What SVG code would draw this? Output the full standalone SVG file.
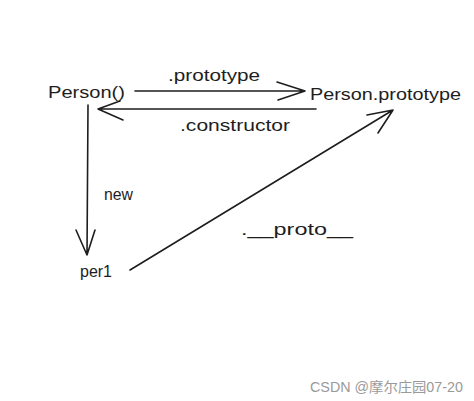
<svg xmlns="http://www.w3.org/2000/svg" width="474" height="401" viewBox="0 0 474 401">
<style>
.t{font-family:"Liberation Sans","DejaVu Sans",sans-serif;font-size:17px;fill:#1e1e1e}
.c{fill:none;stroke:#1e1e1e;stroke-width:1.6;stroke-linecap:round;stroke-linejoin:round}
.w{font-family:"Liberation Sans","Noto Sans CJK SC",sans-serif;font-size:14px;fill:#9a9a9a}
</style>
<rect width="474" height="401" fill="#ffffff"/>
<g id="person">
<text class="t" x="48" y="98" textLength="77" lengthAdjust="spacingAndGlyphs">Person()</text>
</g>
<g id="person-prototype">
<text class="t" x="310" y="100" textLength="151" lengthAdjust="spacingAndGlyphs">Person.prototype</text>
</g>
<g id="per1">
<text class="t" x="80" y="277" textLength="32" lengthAdjust="spacingAndGlyphs">per1</text>
</g>
<g id="connectors">
<path class="c" d="M135 91 L305 91 M277 82 L305 91 L278 100"/>
<path class="c" d="M316 109 L98 109 M120 101 L98 109 L123 120"/>
<path class="c" d="M88 105 L87 255 M76 230 L87 255 L95 230"/>
<path class="c" d="M130 270 L393 110 M367 115 L393 110 L378 133"/>
<text class="t" x="168" y="81" textLength="92" lengthAdjust="spacingAndGlyphs">.prototype</text>
<text class="t" x="180" y="131" textLength="110" lengthAdjust="spacingAndGlyphs">.constructor</text>
<text class="t" x="104" y="200" textLength="29" lengthAdjust="spacingAndGlyphs">new</text>
<text class="t" x="241" y="235" textLength="112" lengthAdjust="spacingAndGlyphs">.__proto__</text>
</g>
<text class="w" x="310" y="392" textLength="153" lengthAdjust="spacingAndGlyphs">CSDN @摩尔庄园07-20</text>
</svg>
